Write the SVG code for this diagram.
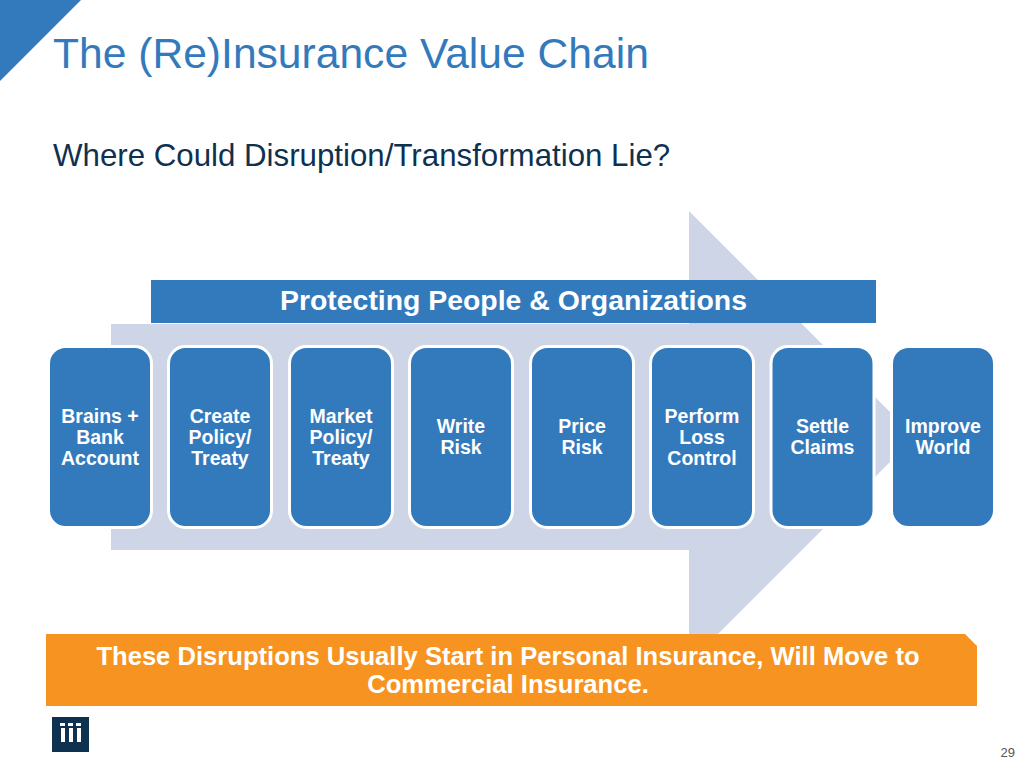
<svg xmlns="http://www.w3.org/2000/svg" width="1024" height="768" viewBox="0 0 1024 768">
<style>
text{font-family:"Liberation Sans",Arial,sans-serif}
.b{fill:#337abd;stroke:#fff;stroke-width:3}
.t{font-size:19.500px;font-weight:bold;fill:#fff;text-anchor:middle}
.h{font-size:25.600px;font-weight:bold;fill:#fff;text-anchor:middle}
.l{fill:#fff}
</style>
<rect width="1024" height="768" fill="#fff"/>
<polygon id="corner" points="0,0 81,0 0,81" fill="#337abd"/>
<text id="title" x="53" y="68" font-size="42.600px" fill="#337abd">The (Re)Insurance Value Chain</text>
<text id="subtitle" x="53" y="166" font-size="31.250px" fill="#0e3150">Where Could Disruption/Transformation Lie?</text>
<polygon id="arrow" points="111,324 689,324 689,211 915,437 689,663 689,550 111,550" fill="#cdd5e7"/>
<g id="banner"><rect x="151" y="280" width="725" height="43" fill="#337abd"/><text class="h" x="513.500" y="310" style="font-size:28.400px">Protecting People &amp; Organizations</text></g>
<g id="n1"><rect class="b" x="48.500" y="346.500" width="103" height="181" rx="17"/><text class="t" x="100" y="423">Brains +</text><text class="t" x="100" y="444">Bank</text><text class="t" x="100" y="465">Account</text></g>
<g id="n2"><rect class="b" x="168.500" y="346.500" width="103" height="181" rx="17"/><text class="t" x="220" y="423">Create</text><text class="t" x="220" y="444">Policy/</text><text class="t" x="220" y="465">Treaty</text></g>
<g id="n3"><rect class="b" x="289.500" y="346.500" width="103" height="181" rx="17"/><text class="t" x="341" y="423">Market</text><text class="t" x="341" y="444">Policy/</text><text class="t" x="341" y="465">Treaty</text></g>
<g id="n4"><rect class="b" x="409.500" y="346.500" width="103" height="181" rx="17"/><text class="t" x="461" y="433">Write</text><text class="t" x="461" y="454">Risk</text></g>
<g id="n5"><rect class="b" x="530.500" y="346.500" width="103" height="181" rx="17"/><text class="t" x="582" y="433">Price</text><text class="t" x="582" y="454">Risk</text></g>
<g id="n6"><rect class="b" x="650.500" y="346.500" width="103" height="181" rx="17"/><text class="t" x="702" y="423">Perform</text><text class="t" x="702" y="444">Loss</text><text class="t" x="702" y="465">Control</text></g>
<g id="n7"><rect class="b" x="771" y="346.500" width="103" height="181" rx="17"/><text class="t" x="822.500" y="433">Settle</text><text class="t" x="822.500" y="454">Claims</text></g>
<g id="n8"><rect class="b" x="891.500" y="346.500" width="103" height="181" rx="17"/><text class="t" x="943" y="433">Improve</text><text class="t" x="943" y="454">World</text></g>
<g id="callout"><polygon points="46,634 965,634 977,646 977,706 46,706" fill="#f79321"/><text class="h" x="508" y="665">These Disruptions Usually Start in Personal Insurance, Will Move to</text><text class="h" x="508" y="693">Commercial Insurance.</text></g>
<g id="logo"><rect x="52" y="717" width="37" height="35" fill="#0e3150"/><g class="l"><rect x="60" y="723" width="5" height="3"/><rect x="68" y="723" width="5" height="3"/><rect x="76" y="723" width="5" height="3"/><rect x="61" y="728" width="4" height="14"/><rect x="69" y="728" width="4" height="14"/><rect x="77" y="728" width="4" height="14"/></g></g>
<text id="page" x="1015" y="757" font-size="13px" fill="#555" text-anchor="end">29</text>
</svg>
